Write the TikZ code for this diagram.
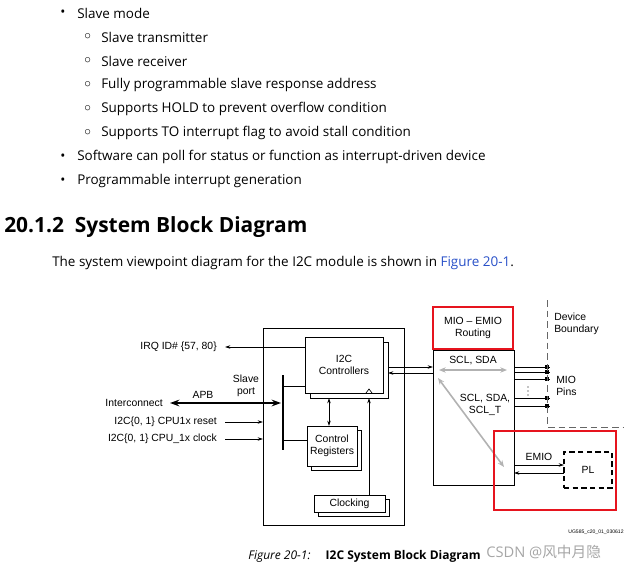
\documentclass[tikz,border=0pt]{standalone}
\usepackage{fontspec}
\setmainfont{Open Sans}
\newfontfamily\dia{Liberation Sans}
\newfontfamily\cjk{Noto Sans CJK SC}
\usetikzlibrary{arrows.meta}
\definecolor{linkblue}{RGB}{40,80,200}
\definecolor{redbox}{RGB}{230,20,30}
\begin{document}
\begin{tikzpicture}[x=0.75pt,y=-0.75pt,
  body/.style={font=\fontsize{10.1}{12}\selectfont,anchor=west,inner sep=0},
  dt/.style={font=\dia\fontsize{7.8}{9.2}\selectfont,inner sep=0,align=center},
  blk/.style={draw,fill=white,line width=0.6pt},
  ln/.style={line width=0.5pt,-{Stealth[length=4pt,width=2.6pt]}},
  gr/.style={draw=gray!60,line width=1.2pt,{Stealth[length=5pt,width=4pt]}-{Stealth[length=5pt,width=4pt]}},
  rb/.style={draw=redbox,line width=1.2pt},
  sz/.style 2 args={minimum width=#1*0.75pt,minimum height=#2*0.75pt,outer sep=0pt}]
\useasboundingbox (0,0) rectangle (639,571);
% text
\foreach \y/\t in {13/Slave mode,157/Software can poll for status or function as interrupt-driven device,181/Programmable interrupt generation}
  {\node[body] at (60,\y) {•}; \node[body] at (77,\y) {\t};}
\foreach \y/\t in {37/Slave transmitter,61/Slave receiver,85/Fully programmable slave response address,109/Supports HOLD to prevent overflow condition,133/Supports TO interrupt flag to avoid stall condition}
  {\node[body] at (84,\y) {$\circ$}; \node[body] at (101,\y) {\t};}
\node[body,font=\bfseries\fontsize{15.7}{18}\selectfont] (title) at (4,227) {20.1.2\ \ System Block Diagram};
\node[body] (para) at (52,263) {The system viewpoint diagram for the I2C module is shown in \textcolor{linkblue}{Figure 20-1}.};
% diagram
\draw[line width=0.6pt] (263,328) rectangle (404,525);
\draw[blk] (310,342) rectangle (388,398);
\node[blk,sz={78}{56},anchor=north west,dt] (i2c) at (305,337) {I2C\\Controllers};
\draw[line width=0.5pt] (366,393) -- (369,389) -- (372,393);
\draw[blk] (311,430) rectangle (361,470);
\node[blk,sz={50}{40},anchor=north west,dt] (cr) at (307,426) {Control\\Registers};
\draw[blk] (318,499) rectangle (389,516);
\node[blk,sz={71}{17},anchor=north west,dt] (clk) at (314,495) {Clocking};
\draw[line width=2pt] (283,375) -- (283,450);
\draw[line width=0.7pt] (283,386) -- (305,386) (283,440) -- (307,440);
\coordinate (busL) at (281,403);
\node[dt,anchor=east] (ic) at (163,403) {Interconnect};
\draw[line width=1.4pt,{Stealth[length=7pt,width=5pt]}-{Stealth[length=7pt,width=5pt]}] (170,403) -- (busL);
\node[dt] (apb) at (203,395) {APB};
\node[dt] (sp) at (246,386) {Slave\\port};
\node[dt,anchor=east] (irq) at (217,347) {IRQ ID\# \{57, 80\}};
\draw[ln] (i2c.west|-0,347) -- (225,347);
\node[dt,anchor=east] (rst) at (217,422) {I2C\{0, 1\} CPU1x reset};
\node[dt,anchor=east] (ck) at (217,439) {I2C\{0, 1\} CPU\_1x clock};
\coordinate (b1) at (263,422); \coordinate (b2) at (263,439);
\draw[ln] (225,422) -- (b1); \draw[ln] (225,439) -- (b2);
\draw[line width=0.5pt,{Stealth[length=4pt,width=2.6pt]}-{Stealth[length=4pt,width=2.6pt]}] (329,398) -- (329,426);
\draw[ln] (369,495) -- (369,398);
% MIO
\node[draw,line width=0.6pt,sz={81}{135},anchor=north west] (mio) at (433,350) {};
\draw[ln] (388,367) -- (433,367);
\draw[ln] (433,373) -- (388,373);
\draw[gr] (439,370) -- (507,370);
\node[dt] (scl1) at (473,361) {SCL, SDA};
\draw[gr] (438,378) -- (504,467);
\node[dt] (scl2) at (485,405) {SCL, SDA,\\SCL\_T};
\node[rb,sz={80}{42},anchor=north west,dt] (mer) at (433,307) {MIO \textendash{} EMIO\\Routing};
\foreach \y in {367,372,379,398,406}{\draw[line width=0.6pt] (514,\y) -- (550,\y); \fill (545,\y-2) rectangle (549,\y+2);}
\foreach \y in {387,391,395}{\fill (528,\y) circle (0.7);}
\draw[dash pattern=on 5pt off 3pt,line width=0.6pt,gray!80!black] (547,300) -- (547,427) -- (623,427);
\node[dt,anchor=west,align=left] (db) at (554,324) {Device\\Boundary};
\node[dt,anchor=west,align=left] (mp) at (556,386) {MIO\\Pins};
\node[draw,dash pattern=on 4pt off 2.5pt,line width=0.9pt,sz={48}{36},anchor=north west,dt] (pl) at (564,452) {PL};
\draw[ln] (514,465) -- (564,465);
\draw[ln] (564,473) -- (514,473);
\node[dt] (emio) at (539,457) {EMIO};
\draw[rb] (494,431) rectangle (616,510);
\node[font=\dia\fontsize{3.8}{4}\selectfont,inner sep=0] (ug) at (596,532) {UG585\_c20\_01\_030612};
\node[inner sep=0,anchor=west,font=\fontsize{9}{11}\selectfont] (cap) at (248,556) {\textit{Figure 20-1:}\quad\ \textbf{I2C System Block Diagram}};
\node[inner sep=0,anchor=west,text=gray!70,font=\fontsize{11}{13}\selectfont] (wm) at (486,552) {CSDN @{\cjk 风中月隐}};
\end{tikzpicture}
\end{document}
